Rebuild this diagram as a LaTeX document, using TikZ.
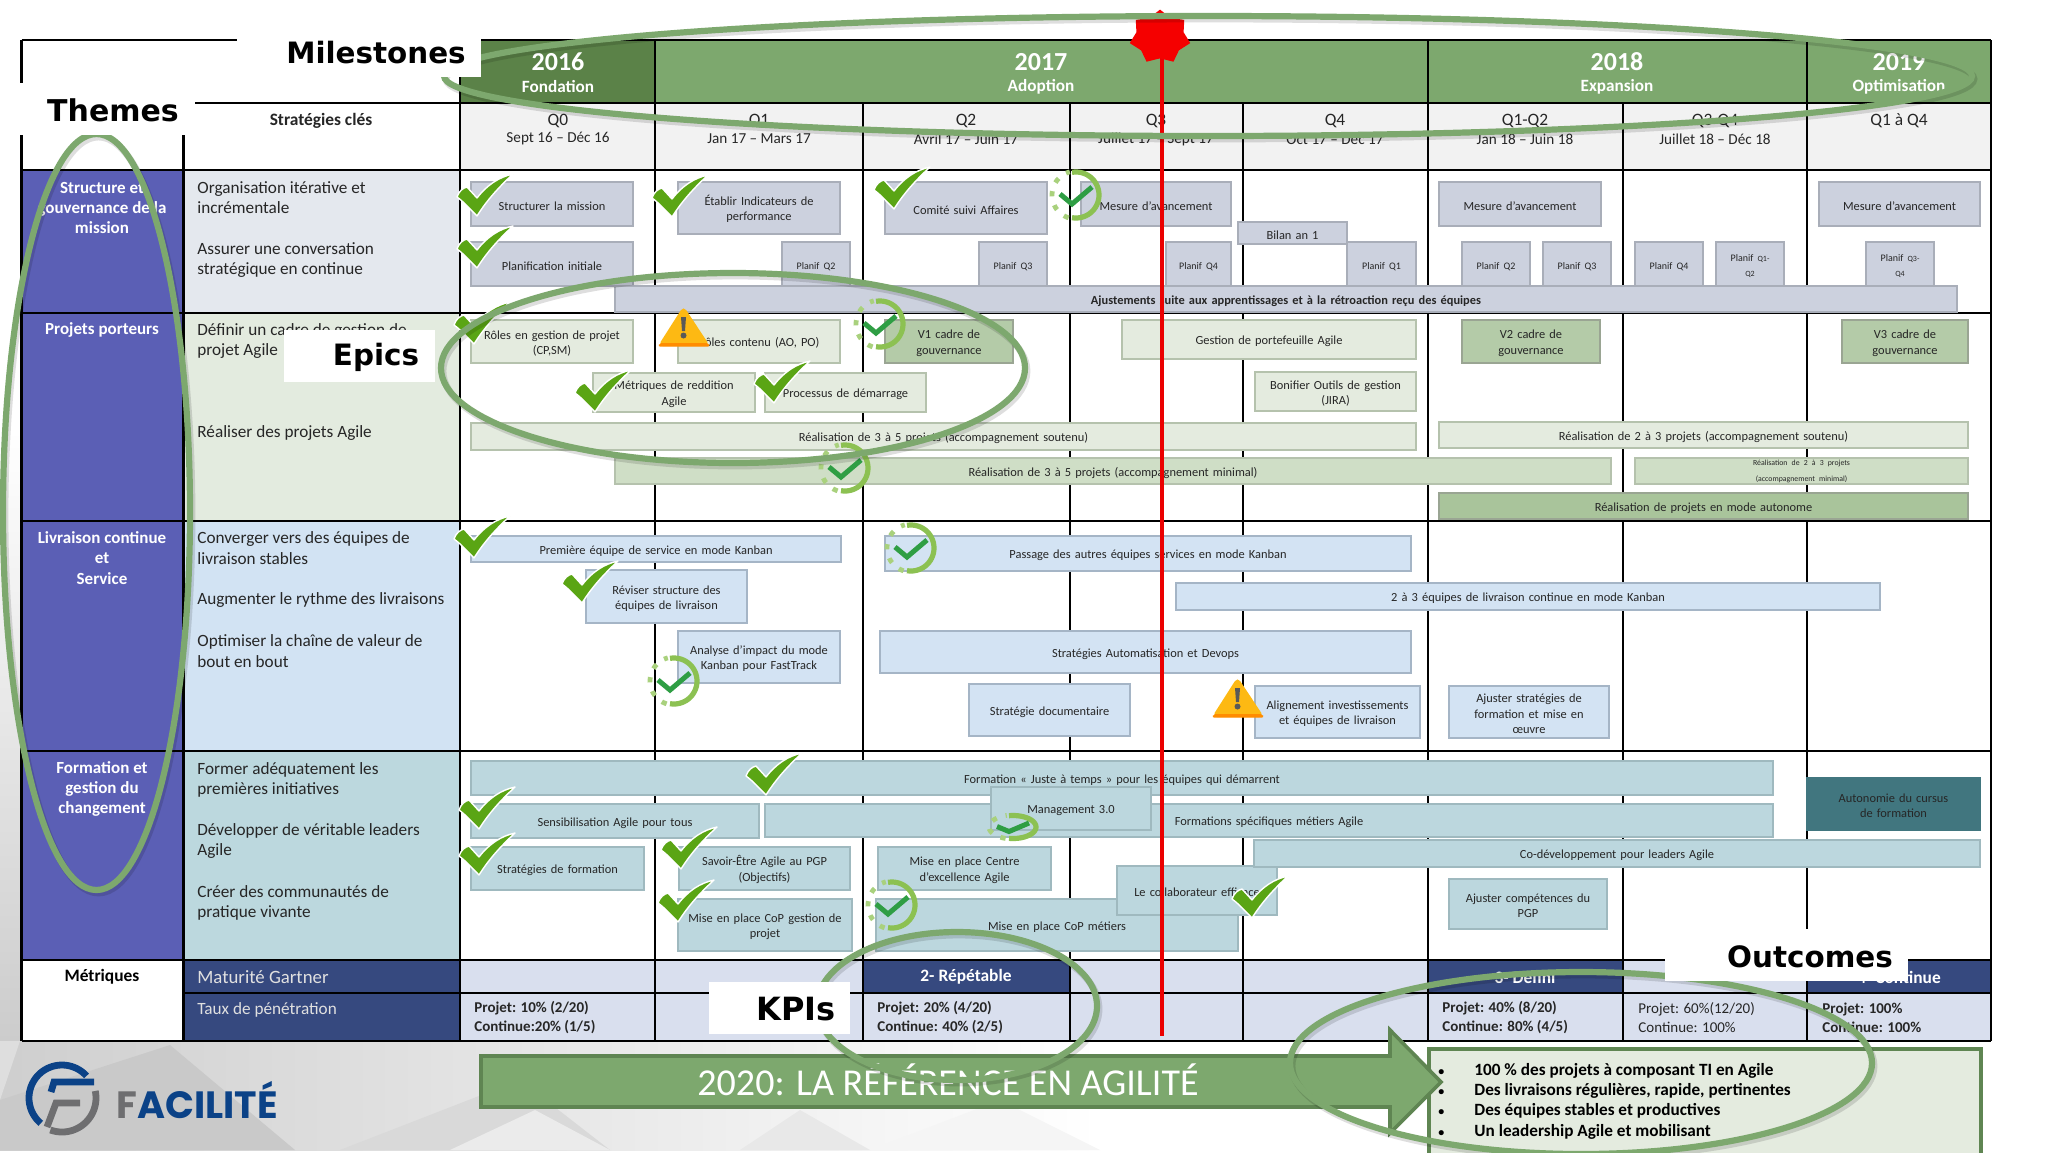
\documentclass[tikz,border=0pt]{standalone}
\usepackage{fontspec}
\setmainfont{Carlito}
\newfontfamily\lblfont{DejaVu Sans}
\newfontfamily\logofont{Poppins}
\usetikzlibrary{shapes.geometric}
\definecolor{gridc}{HTML}{000000}
\definecolor{hdrdark}{HTML}{5B8248}
\definecolor{hdr}{HTML}{7DA86E}
\definecolor{subhdr}{HTML}{F2F2F2}
\definecolor{theme}{HTML}{5B5FB5}
\definecolor{metricdark}{HTML}{36497F}
\definecolor{metriclight}{HTML}{D9DFEE}
\definecolor{ra}{HTML}{CCD1DE}\definecolor{rab}{HTML}{A9AEB9}
\definecolor{rb}{HTML}{E4EBDF}\definecolor{rbb}{HTML}{B5C2AD}
\definecolor{rbm}{HTML}{CFDEC6}\definecolor{rbd}{HTML}{B4CBA8}\definecolor{rbe}{HTML}{A9C49B}
\definecolor{rc}{HTML}{D3E3F3}\definecolor{rcb}{HTML}{A5B5C6}
\definecolor{rd}{HTML}{BCD7DE}\definecolor{rdb}{HTML}{9FB9BF}
\definecolor{sa}{HTML}{E4E8EE}\definecolor{sb}{HTML}{E3EBDF}\definecolor{sc}{HTML}{D2E3F3}\definecolor{sd}{HTML}{BCD8DE}
\definecolor{autonomie}{HTML}{41767F}
\definecolor{ticka}{HTML}{5AA514}
\definecolor{tickb}{HTML}{2F9E44}
\definecolor{progc}{HTML}{8CC152}
\definecolor{ring}{HTML}{7DA86E}
\definecolor{arrowb}{HTML}{5F8552}
\definecolor{logob}{HTML}{0B4287}
\definecolor{logog}{HTML}{6E6E70}
\definecolor{txt}{HTML}{262626}
\definecolor{warnc}{HTML}{FDB913}

\tikzset{
  bar/.style={draw,rectangle,inner sep=0pt,outer sep=0pt,line width=.6pt,align=center,text=txt,font=\fontsize{6.2}{7.7}\selectfont},
  rowa/.style={bar,fill=ra,draw=rab},
  rowb/.style={bar,fill=rb,draw=rbb},
  rowbm/.style={bar,fill=rbm,draw=rbb},
  rowbd/.style={bar,fill=rbd,draw=rbb!85!black},
  rowbe/.style={bar,fill=rbe,draw=rbb!85!black},
  rowc/.style={bar,fill=rc,draw=rcb},
  rowd/.style={bar,fill=rd,draw=rdb},
  grid/.style={draw=gridc,line width=1.2pt},
  strat/.style={anchor=west,align=left,inner sep=0pt,text=txt,font=\fontsize{8.6}{10.2}\selectfont},
  themetxt/.style={align=center,inner sep=0pt,text=white,font=\bfseries\fontsize{8.5}{10.2}\selectfont},
  yeartxt/.style={align=center,inner sep=0pt,text=white,font=\fontsize{13}{14}\selectfont\bfseries},
  phasetxt/.style={align=center,inner sep=0pt,text=white,font=\fontsize{8.6}{9}\selectfont\bfseries},
  qtxt/.style={align=center,inner sep=0pt,text=txt,font=\fontsize{8.7}{9}\selectfont},
  dtxt/.style={align=center,inner sep=0pt,text=txt,font=\fontsize{7.6}{8}\selectfont},
  mtxt/.style={anchor=west,align=left,inner sep=0pt,text=txt,font=\bfseries\fontsize{7.5}{9.5}\selectfont},
  boldlbl/.style={inner sep=0pt,font=\bfseries\fontsize{8.7}{9}\selectfont},
  lbltxt/.style={inner sep=0pt,font=\lblfont\bfseries\fontsize{14.7}{16}\selectfont},
  ringline/.style={draw=ring,line width=3.1pt},
  ringshade/.style={draw=black,opacity=.13,line width=3.4pt},
}
\newcommand{\bx}[7][rowa]{%
  \pgfmathsetmacro{\bxw}{#5-#3}\pgfmathsetmacro{\bxh}{#6-#4}%
  \pgfmathsetmacro{\bxcx}{(#3+#5)/2}\pgfmathsetmacro{\bxcy}{(#4+#6)/2}%
  \node[#1,minimum width=\bxw*0.5pt,minimum height=\bxh*0.5pt,text width=\bxw*0.5pt-1pt] (#2) at (\bxcx,\bxcy) {\vskip-1.5pt\relax #7};}
\newcommand{\tick}[2]{%
  \begin{scope}[shift={(#1,#2)}]
  \fill[ticka,draw=white,line width=.7pt,line join=round] (0,23) .. controls (2,17) and (6,14) .. (10,13) -- (20,24)
    .. controls (30,11) and (42,3) .. (56,0) .. controls (42,13) and (30,26) .. (20,42) .. controls (14,36) and (7,28) .. (0,23) -- cycle;
  \end{scope}}
\newcommand{\prog}[3][1]{%
  \begin{scope}[shift={(#2,#3)},yscale=#1]
  \draw[progc,line width=2.6pt] plot[domain=-100:100,samples=40] ({23*cos(\x)},{23*sin(\x)});
  \draw[progc!75!white,line width=2.4pt,dash pattern=on 2.6pt off 4.6pt] plot[domain=108:255,samples=30] ({24*cos(\x)},{24*sin(\x)});
  \draw[tickb,line width=2.5pt] (-16,-1) -- (-4,9) -- (16,-8);
  \end{scope}}
\newcommand{\warn}[2]{%
  \begin{scope}[shift={(#1,#2)}]
  \fill[warnc,rounded corners=2.5pt] (25.5,0) -- (52,40) -- (0,40) -- cycle;
  \fill[orange!90!yellow,rounded corners=1pt] (1.5,37) -- (50.5,37) -- (52,40.5) -- (0,40.5) -- cycle;
  \fill[black!65] (23,11) -- (28,11) -- (27,25) -- (24,25) -- cycle;
  \fill[black!65] (25.5,29.5) circle[radius=3];
  \end{scope}}

\begin{document}
\begin{tikzpicture}[x=0.5pt,y=-0.5pt]
\path[use as bounding box,clip] (0,0) rectangle (2048,1152);
% background
\fill[white] (0,0) rectangle (2048,1152);
\shade[top color=white,bottom color=black!20] (0,430) rectangle (22,1041);
\shade[left color=black!19,right color=white] (0,1041) rectangle (1100,1150);
\fill[black!13] (0,1041) -- (20,1041) -- (0,1100) -- cycle;
\fill[black!21] (170,1045) -- (295,1150) -- (0,1150) -- (0,1100) -- cycle;
\fill[black!15] (340,1150) -- (520,1080) -- (610,1150) -- cycle;
\fill[black!8] (450,1150) -- (535,1110) -- (610,1150) -- cycle;
\fill[black!9] (740,1150) -- (800,1110) -- (870,1150) -- cycle;
\fill[black!4] (870,1150) -- (1000,1100) -- (1100,1150) -- cycle;
% header
\fill[hdrdark] (460,40) rectangle (655,103);
\fill[hdr] (655,40) rectangle (1991,103);
\fill[subhdr] (460,103) rectangle (1991,170);
% left fills
\fill[theme] (21.5,170) rectangle (183.5,960);
\fill[sa] (183.5,170) rectangle (460,313);
\fill[sb] (183.5,313) rectangle (460,521);
\fill[sc] (183.5,521) rectangle (460,751);
\fill[sd] (183.5,751) rectangle (460,960);
\fill[metricdark] (183.5,960) rectangle (460,1041);
\fill[metriclight] (460,960) rectangle (1991,1041);
\fill[metricdark] (863,960) rectangle (1070,993);
\fill[metricdark] (1428,960) rectangle (1623,993);
\fill[metricdark] (1807,960) rectangle (1991,993);
\fill[white] (21.5,960) rectangle (183.5,1041);
\fill[white] (460,170) rectangle (1991,960);
% grid
\foreach \gx in {460,655,863,1070,1243,1428,1623,1807}
  \draw[grid] (\gx,103) -- (\gx,1041);
\foreach \gx in {655,1428,1807} \draw[grid] (\gx,40) -- (\gx,103);
\draw[grid] (460,40) -- (460,103);
\draw[grid] (183.5,135) -- (183.5,1041);
\draw[grid] (21.5,40) -- (21.5,83);
\draw[grid] (21.5,135) -- (21.5,1041);
\draw[grid] (1991,40) -- (1991,1041);
\draw[grid] (21.5,40) -- (237,40);
\draw[grid] (460,40) -- (1991,40);
\draw[grid] (195,103) -- (1991,103);
\foreach \gy in {170,313,521,751,960} \draw[grid] (21.5,\gy) -- (1991,\gy);
\draw[grid] (183.5,993) -- (1991,993);
\draw[grid] (21.5,1041) -- (1991,1041);

% header texts
\node[yeartxt] (y16) at (558,62) {2016};
\node[phasetxt] (p16) at (558,87) {Fondation};
\node[yeartxt] (y17) at (1041,62) {2017};
\node[phasetxt] (p17) at (1041,87) {Adoption};
\node[yeartxt] (y18) at (1617,62) {2018};
\node[phasetxt] (p18) at (1617,87) {Expansion};
\node[yeartxt] (y19) at (1899,62) {2019};
\node[phasetxt] (p19) at (1899,87) {Optimisation};
\node[qtxt] (q0) at (558,121) {Q0};       \node[dtxt] (d0) at (558,139) {Sept 16 – Déc 16};
\node[qtxt] (q1) at (759,121) {Q1};       \node[dtxt] (d1) at (759,139) {Jan 17 – Mars 17};
\node[qtxt] (q2) at (966,121) {Q2};       \node[dtxt] (d2) at (966,139) {Avril 17 – Juin 17};
\node[qtxt] (q3) at (1156,121) {Q3};      \node[dtxt] (d3) at (1156,139) {Juillet 17 – Sept 17};
\node[qtxt] (q4) at (1335,121) {Q4};      \node[dtxt] (d4) at (1335,139) {Oct 17 – Déc 17};
\node[qtxt] (q5) at (1525,121) {Q1-Q2};   \node[dtxt] (d5) at (1525,139) {Jan 18 – Juin 18};
\node[qtxt] (q6) at (1715,121) {Q3-Q4};   \node[dtxt] (d6) at (1715,139) {Juillet 18 – Déc 18};
\node[qtxt] (q7) at (1899,121) {Q1 à Q4};
\node[boldlbl,text=txt] (strathead) at (321,121) {Stratégies clés};

% themes
\node[themetxt] (t1) at (102,208) {Structure et\\gouvernance de la\\mission};
\node[themetxt] (t2) at (102,330) {Projets porteurs};
\node[themetxt] (t3) at (102,558) {Livraison continue\\et\\Service};
\node[themetxt] (t4) at (102,789) {Formation et\\gestion du\\changement};
\node[boldlbl,text=black] (t5) at (102,977) {Métriques};

% strategies
\node[strat] (s1) at (197,197.5) {Organisation itérative et\\incrémentale};
\node[strat] (s2) at (197,260) {Assurer une conversation\\stratégique en continue};
\node[strat] (s3) at (197,341) {Définir un cadre de gestion de\\projet Agile};
\node[strat] (s4) at (197,433) {Réaliser des projets Agile};
\node[strat] (s5) at (197,548) {Converger vers  des équipes de\\livraison stables};
\node[strat] (s6) at (197,600) {Augmenter le rythme des livraisons};
\node[strat] (s7) at (197,651) {Optimiser la chaîne de valeur de\\bout en bout};
\node[strat] (s8) at (197,780) {Former adéquatement les\\premières initiatives};
\node[strat] (s9) at (197,841) {Développer de véritable leaders\\Agile};
\node[strat] (s10) at (197,903) {Créer des communautés de\\pratique vivante};
\node[strat,text=white!88!black,font=\fontsize{9.4}{10.2}\selectfont] (s11) at (197,977) {Maturité Gartner};
\node[strat,text=white!88!black] (s12) at (197,1010) {Taux de pénétration};

% metrics
\node[boldlbl,text=white] (m2) at (966,977) {2- Répétable};
\node[boldlbl,text=white] (m3) at (1525,977) {3- Défini};
\node[boldlbl,text=white] (m4) at (1899,977) {4- Continue};
\node[mtxt] (k1) at (474,1018) {Projet: 10\% (2/20)\\Continue:20\% (1/5)};
\node[mtxt] (k2) at (877,1018) {Projet: 20\% (4/20)\\Continue: 40\% (2/5)};
\node[mtxt] (k3) at (1442,1018) {Projet: 40\% (8/20)\\Continue: 80\% (4/5)};
\node[mtxt,font=\fontsize{7.5}{9.5}\selectfont] (k4) at (1638,1018) {Projet: 60\%(12/20)\\Continue: 100\%};
\node[mtxt] (k5) at (1822,1018) {Projet: 100\%\\Continue: 100\%};

% row 1
\bx{a1}{471}{182}{633}{226}{Structurer la mission}
\bx{a2}{471}{242}{633}{286}{Planification initiale}
\bx{a3}{678}{182}{840}{234}{Établir Indicateurs de\\performance}
\bx{a4}{782}{242}{850}{286}{\fontsize{5}{7}\selectfont Planif Q2}
\bx{a5}{885}{182}{1047}{234}{Comité suivi Affaires}
\bx{a6}{979}{242}{1047}{286}{\fontsize{5}{7}\selectfont Planif Q3}
\bx{a7}{1081}{182}{1231}{226}{Mesure d’avancement}
\bx{a8}{1166}{242}{1231}{286}{\fontsize{5}{7}\selectfont Planif Q4}
\bx{a10}{1347}{242}{1416}{286}{\fontsize{5}{7}\selectfont Planif Q1}
\bx{a9}{1238}{222}{1347}{244}{Bilan an 1}
\bx{a11}{1439}{182}{1601}{226}{Mesure d’avancement}
\bx{a12}{1462}{242}{1530}{286}{\fontsize{5}{7}\selectfont Planif Q2}
\bx{a13}{1543}{242}{1611}{286}{\fontsize{5}{7}\selectfont Planif Q3}
\bx{a14}{1635}{242}{1703}{286}{\fontsize{5}{7}\selectfont Planif Q4}
\bx{a15}{1716}{242}{1784}{286}{\fontsize{5}{7}\selectfont Planif {\fontsize{4}{7}\selectfont Q1-\\Q2}}
\bx{a16}{1819}{182}{1980}{226}{Mesure d’avancement}
\bx{a17}{1866}{242}{1934}{286}{\fontsize{5}{7}\selectfont Planif {\fontsize{4}{7}\selectfont Q3-\\Q4}}
\bx{a18}{615}{286}{1957}{312}{\bfseries Ajustements suite aux apprentissages et à la rétroaction reçu des équipes}

% row 2
\bx[rowb]{b1}{471}{320}{633}{363}{Rôles en gestion de projet\\(CP,SM)}
\bx[rowb]{b2}{678}{320}{840}{363}{Rôles contenu (AO, PO)}
\bx[rowbd]{b3}{885}{320}{1013}{363}{V1 cadre de\\gouvernance}
\bx[rowb]{b4}{593}{373}{755}{412}{Métriques de reddition\\Agile}
\bx[rowb]{b5}{765}{373}{926}{412}{Processus de démarrage}
\bx[rowb]{b6}{471}{423}{1416}{450}{Réalisation de 3 à 5 projets (accompagnement soutenu)}
\bx[rowbm]{b7}{615}{458}{1611}{484}{Réalisation de 3 à 5 projets (accompagnement minimal)}
\bx[rowb]{b8}{1122}{320}{1416}{359}{Gestion de portefeuille Agile}
\bx[rowb]{b9}{1255}{372}{1416}{411}{Bonifier Outils de gestion\\(JIRA)}
\bx[rowbd]{b10}{1462}{320}{1600}{363}{V2 cadre de\\gouvernance}
\bx[rowbd]{b11}{1842}{320}{1968}{363}{V3 cadre de\\gouvernance}
\bx[rowb]{b12}{1439}{422}{1968}{448}{Réalisation de 2 à 3 projets (accompagnement soutenu)}
\bx[rowbm]{b13}{1635}{458}{1968}{484}{\fontsize{3.9}{4.8}\selectfont Réalisation de 2 à 3 projets\\(accompagnement  minimal)}
\bx[rowbe]{b14}{1439}{493}{1968}{519}{Réalisation de projets en mode autonome}

% row 3
\bx[rowc]{c1}{471}{536}{841}{562}{Première équipe de service en mode Kanban}
\bx[rowc]{c2}{586}{570}{747}{623}{Réviser structure des\\équipes de livraison}
\bx[rowc]{c3}{678}{631}{840}{683}{Analyse d’impact du mode\\Kanban pour FastTrack}
\bx[rowc]{c4}{885}{536}{1411}{571}{Passage des autres équipes services en mode Kanban}
\bx[rowc]{c5}{1176}{583}{1880}{610}{2 à 3 équipes de livraison continue en mode Kanban}
\bx[rowc]{c6}{880}{631}{1411}{673}{Stratégies Automatisation et Devops}
\bx[rowc]{c7}{969}{684}{1130}{736}{Stratégie documentaire}
\bx[rowc]{c8}{1255}{686}{1420}{738}{Alignement investissements\\et équipes de livraison}
\bx[rowc]{c9}{1449}{686}{1609}{738}{Ajuster stratégies de\\formation et mise en\\œuvre}

% row 4
\bx[rowd]{e1}{471}{761}{1773}{795}{Formation « Juste à temps » pour les équipes qui démarrent}
\bx[rowd]{e2}{471}{804}{759}{838}{Sensibilisation Agile pour tous}
\bx[rowd]{e3}{765}{804}{1773}{837}{Formations spécifiques métiers Agile}
\bx[rowd]{e4}{991}{787}{1151}{830}{Management 3.0}
\bx[rowd]{e5}{471}{847}{644}{890}{Stratégies de formation}
\bx[rowd]{e6}{679}{847}{850}{890}{Savoir-Être Agile au PGP\\(Objectifs)}
\bx[rowd]{e7}{678}{899}{852}{951}{Mise en place CoP gestion de\\projet}
\bx[rowd]{e8}{878}{847}{1051}{890}{Mise en place Centre\\d’excellence Agile}
\bx[rowd]{e9}{876}{899}{1238}{951}{Mise en place CoP métiers}
\bx[rowd]{e10}{1117}{866}{1277}{915}{Le collaborateur efficace}
\bx[bar,fill=autonomie,draw=autonomie]{e11}{1807}{778}{1980}{830}{Autonomie du cursus\\de formation}
\bx[rowd]{e12}{1254}{840}{1980}{867}{Co-développement pour leaders Agile}
\bx[rowd]{e13}{1449}{879}{1607}{929}{Ajuster compétences du\\PGP}

% status marks
\tick{457}{174}\tick{457}{226}\tick{652}{175}\tick{874}{167}
\tick{454}{302}\tick{575}{370}\tick{754}{361}
\tick{454}{516}\tick{562}{561}
\tick{746}{753}\tick{459}{787}\tick{459}{833}\tick{661}{827}\tick{658}{880}\tick{1232}{876}
\prog{1076}{195}\prog{880}{324}\prog{845}{468}\prog{911}{548}\prog{674}{681}\prog{892}{905}
\prog[.5]{1013}{827}
\warn{658}{306}\warn{1212}{677}

% bottom
\node[draw=arrowb,fill=rb,line width=2pt,inner sep=0pt,minimum width=276pt,minimum height=60pt,anchor=north west] (outbox) at (1427,1047) {};
\fill[hdr,draw=arrowb,line width=1.8pt,line join=miter] (481,1056) -- (1390,1056) -- (1390,1030) -- (1441,1082) -- (1390,1133) -- (1390,1107) -- (481,1107) -- cycle;
\node[inner sep=0pt,text=white,font=\fontsize{19}{21}\selectfont] (vision) at (948,1080) {2020: LA RÉFÉRENCE EN AGILITÉ};
\node[anchor=west,align=left,inner sep=0pt,text=black,font=\bfseries\fontsize{8.6}{10.2}\selectfont] (outtxt) at (1438,1101)
 {\makebox[18pt][l]{\fontsize{6}{7}\selectfont •}100 \% des projets à composant TI en Agile\\
  \makebox[18pt][l]{\fontsize{6}{7}\selectfont •}Des livraisons régulières, rapide, pertinentes\\
  \makebox[18pt][l]{\fontsize{6}{7}\selectfont •}Des équipes stables et productives\\
  \makebox[18pt][l]{\fontsize{6}{7}\selectfont •}Un leadership Agile et mobilisant};

% logo
\draw[logob,line width=3.4pt] plot[domain=130:318,samples=50] ({62+33*cos(\x)},{1098+33*sin(\x)});
\draw[logob,line width=3.4pt,line join=miter] (94,1082) -- (54,1082) -- (51,1092);
\draw[logog,line width=3.4pt] plot[domain=-12:110,samples=40] ({62+34*cos(\x)},{1098+34*sin(\x)});
\draw[logog,line width=3.4pt,line join=miter] (80,1103) -- (56,1103) -- (47,1127);
\node[anchor=west,inner sep=0pt,text=logob,font=\logofont\bfseries\fontsize{19}{21}\selectfont] (logotxt) at (116,1100) {{\color{logog}F}ACILITÉ};

% milestone marker
\coordinate (redend) at (1162,1036);
\coordinate (starc) at (1162,40);
\draw[red!92!black,line width=2.4pt] (starc) -- (redend);
\fill[red!96!black] plot[samples at={0,...,13},variable=\k] ({1160+31*(mod(\k,2)==0?1:.78)*cos(90+\k*25.714)},{37-27.4*(mod(\k,2)==0?1:.78)*sin(90+\k*25.714)}) -- cycle;

% rings
\foreach \cx/\cy/\rx/\ry in {1208/76/764/60,96.5/512/93.5/378,733/368/292/95,957/1006/140/74,1581/1063/291/91}{
  \draw[ringshade] (\cx+2,\cy+3) ellipse [x radius=\rx, y radius=\ry];
  \draw[ringline] (\cx,\cy) ellipse [x radius=\rx, y radius=\ry];
}

% labels
\fill[white] (237,20) rectangle (481,77);
\fill[white] (0,83) rectangle (195,135);
\fill[white] (284,330) rectangle (435,382);
\fill[white] (709,982) rectangle (850,1034);
\fill[white] (1665,929) rectangle (1908,981);
\node[lbltxt] (lm) at (376,53) {Milestones};
\node[lbltxt,font=\lblfont\bfseries\fontsize{15}{16}\selectfont] (lt) at (113,110) {Themes};
\node[lbltxt] (le) at (376,357) {Epics};
\node[lbltxt,font=\lblfont\bfseries\fontsize{16}{17}\selectfont] (lk) at (796,1009) {KPIs};
\node[lbltxt] (lo) at (1810,957) {Outcomes};
\end{tikzpicture}
\end{document}
